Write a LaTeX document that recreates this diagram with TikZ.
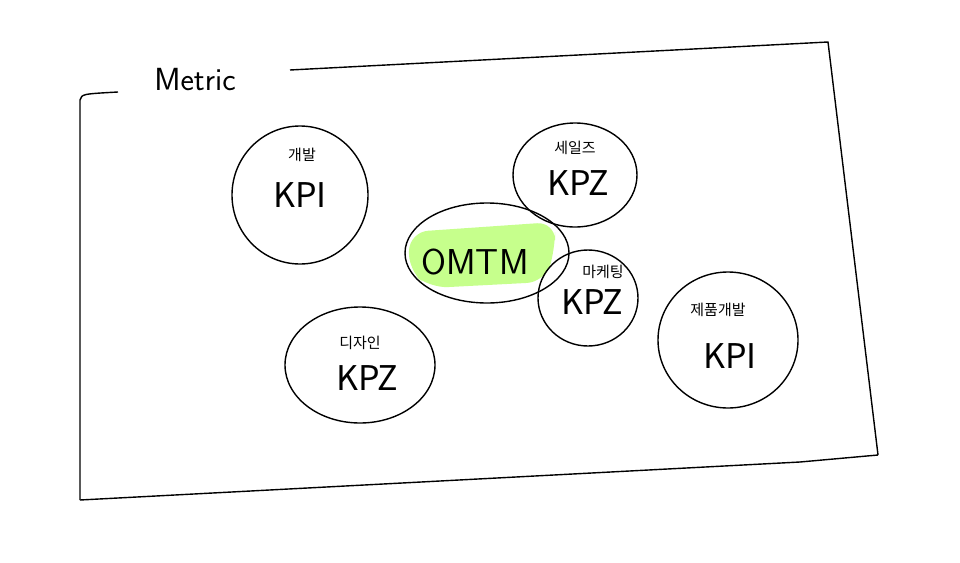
\documentclass[tikz,border=0pt]{standalone}
\usepackage{fontspec}
\newfontfamily\kr{Noto Sans CJK KR}
\usetikzlibrary{shapes.geometric}
\begin{document}
\begin{tikzpicture}[x=1pt,y=-1pt,
  bub/.style={draw,line width=1.4pt,ellipse,inner sep=0pt},
  small/.style={font=\kr\fontsize{15}{15}\selectfont},
  big/.style={font=\kr\fontsize{34}{34}\selectfont}]
\useasboundingbox (0,0) rectangle (960,562);
\fill[white] (0,0) rectangle (960,562);
\draw[line width=1.4pt] (290,70) -- (828,42) -- (878,455) (80,500) -- (80,100) .. controls (82,94) .. (118,92);
\draw[line width=1.4pt] (878,455) -- (800,462);
\draw[line width=1.4pt] (800,462) -- (80,500);
\node[font=\fontsize{32}{32}\selectfont\sffamily] (metric) at (195,80) {Metric};
\node[bub,minimum width=136pt,minimum height=138pt] (dev) at (300,195) {};
\node[small] at (302,155) {개발};
\node[big] at (300,195) {KPI};
\node[bub,minimum width=124pt,minimum height=104pt] (sales) at (575,175) {};
\node[small] at (575,148) {세일즈};
\node[big] at (578,183) {KPZ};
\fill[green!50!yellow!45,rounded corners=18pt] (410,232) -- (555,222) -- (555,250) -- (545,282) -- (430,288) -- (408,270) -- cycle;
\node[bub,minimum width=164pt,minimum height=100pt] (omtm) at (487,253) {};
\node[font=\fontsize{36}{36}\selectfont\sffamily] at (475,262) {OMTM};
\node[bub,minimum width=100pt,minimum height=96pt] (mkt) at (588,298) {};
\node[small] at (603,272) {마케팅};
\node[big] at (592,302) {KPZ};
\node[bub,minimum width=150pt,minimum height=116pt] (design) at (360,365) {};
\node[small] at (360,343) {디자인};
\node[big] at (367,378) {KPZ};
\node[bub,minimum width=140pt,minimum height=136pt] (prod) at (728,340) {};
\node[small] at (718,310) {제품개발};
\node[big] at (730,356) {KPI};
\end{tikzpicture}
\end{document}
